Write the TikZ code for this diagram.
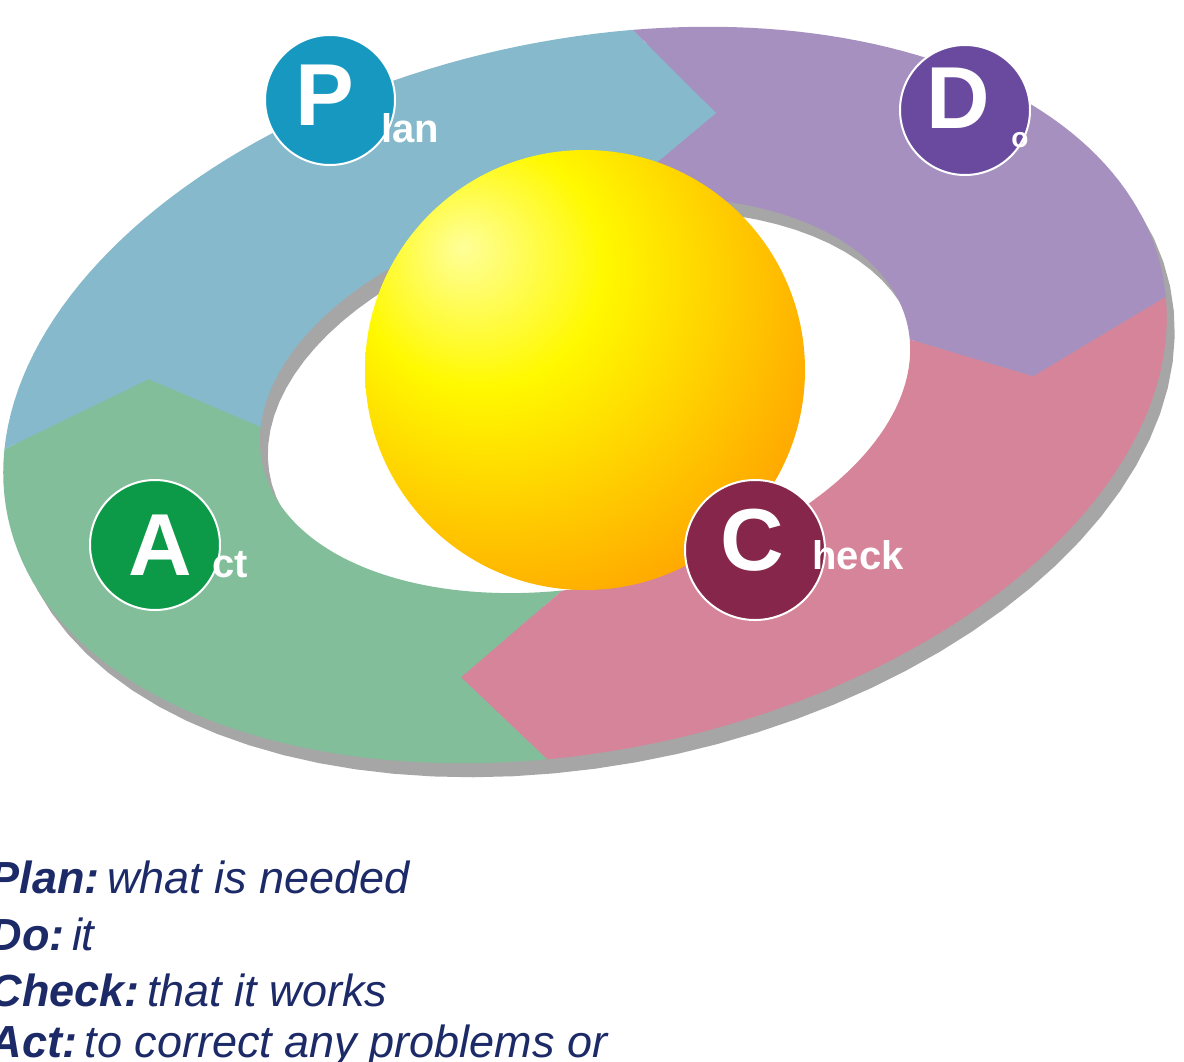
\documentclass[tikz,border=0pt]{standalone}
\usepackage{fontspec}
\setmainfont{Liberation Sans}
\definecolor{plc}{HTML}{86B9CB}
\definecolor{doc}{HTML}{A690BF}
\definecolor{chc}{HTML}{D6849A}
\definecolor{acc}{HTML}{82BE9A}
\definecolor{plb}{HTML}{1798C0}
\definecolor{dob}{HTML}{6A4A9E}
\definecolor{chb}{HTML}{86264A}
\definecolor{acb}{HTML}{0C9A48}
\definecolor{txt}{HTML}{1C2A68}
\pgfdeclareradialshading{sph}{\pgfpoint{-14bp}{14bp}}{color(0bp)=(white!60!yellow); color(14bp)=(yellow!95!orange); color(38bp)=(orange!70!yellow); color(50bp)=(orange!90!red); color(100bp)=(orange)}
\newcommand{\seg}[3]{%
\fill[#3] plot[domain=#1:#2,samples=50] ({590*cos(\x)},{355*sin(\x)})
 -- ({460*cos(#2-12)},{272*sin(#2-12)})
 -- plot[domain=#2:#1,samples=50] ({330*cos(\x)},{190*sin(\x)})
 -- ({460*cos(#1-12)},{272*sin(#1-12)}) -- cycle;}
\tikzset{badge/.style={circle,draw=white,line width=2pt,minimum size=#1,inner sep=0pt},
 big/.style={text=white,font=\bfseries\fontsize{88}{88}\selectfont},
 small/.style={text=white,font=\bfseries\fontsize{40}{40}\selectfont},
 lab/.style={anchor=west,text=txt,font=\itshape\fontsize{45}{47}\selectfont}}
\begin{document}
\begin{tikzpicture}[x=1pt,y=1pt]
\useasboundingbox (0,-1061) rectangle (1184,0);
\begin{scope}[shift={(593,-409)},rotate=12]
\fill[black!35,even odd rule] plot[domain=0:360,samples=90] ({590*cos(\x)},{355*sin(\x)}) -- cycle
  plot[domain=0:360,samples=90] ({330*cos(\x)},{190*sin(\x)}) -- cycle;
\end{scope}
\begin{scope}[shift={(585,-395)},rotate=12]
\seg{259}{169}{acc}
\seg{169}{78}{plc}
\seg{78}{-4}{doc}
\seg{-4}{-101}{chc}
\end{scope}
\shade[shading=sph] (585,-370) circle (220);
\node[badge=130pt,fill=plb] (p) at (330,-100) {};
\node[big] (pl) at (325,-95) {P};
\node[small] (pl2) at (410,-128) {lan};
\node[badge=130pt,fill=dob] (d) at (965,-110) {};
\node[big] (dl) at (958,-98) {D};
\node[small,font=\bfseries\fontsize{28}{28}\selectfont] (dl2) at (1020,-140) {o};
\node[badge=140pt,fill=chb] (c) at (755,-550) {};
\node[big] (cl) at (752,-540) {C};
\node[small] (cl2) at (858,-555) {heck};
\node[badge=130pt,fill=acb] (a) at (155,-545) {};
\node[big] (al) at (160,-545) {A};
\node[small] (al2) at (230,-565) {ct};
\node[lab] (t1) at (-14,-877) {\textbf{Plan:}\,what is needed};
\node[lab] (t2) at (-14,-934) {\textbf{Do:}\,it};
\node[lab] (t3) at (-14,-990) {\textbf{Check:}\,that it works};
\node[lab] (t4) at (-14,-1046) {\textbf{Act:}\,to correct any problems or};
\end{tikzpicture}
\end{document}
